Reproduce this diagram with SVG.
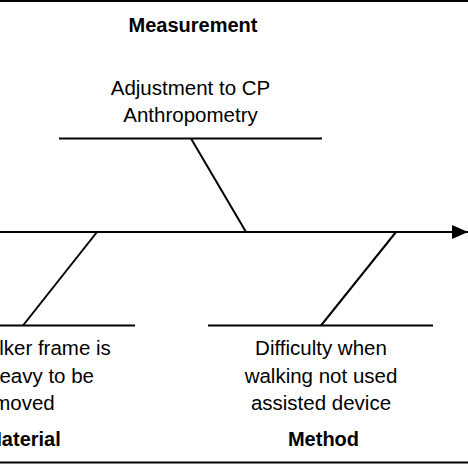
<svg xmlns="http://www.w3.org/2000/svg" width="468" height="468" viewBox="0 0 468 468">
<defs>
<style>
.ln{stroke:#000;stroke-width:2;fill:none}
.t{font-family:"Liberation Sans",Arial,sans-serif;font-size:20.5px;fill:#000;text-anchor:middle}
.b{font-family:"Liberation Sans",Arial,sans-serif;font-size:20px;font-weight:bold;fill:#000;text-anchor:middle}
</style>
<marker id="ah" markerWidth="8" markerHeight="7" refX="8" refY="3.5" orient="auto" markerUnits="strokeWidth">
<path d="M0,0 L8,3.5 L0,7 Z" fill="#000"/>
</marker>
</defs>
<rect width="468" height="468" fill="#fff"/>
<line class="ln" x1="0" y1="1" x2="468" y2="1"/>
<line class="ln" x1="0" y1="462.5" x2="468" y2="462.5"/>
<g id="connectors">
<line class="ln" x1="0" y1="232" x2="468" y2="232" marker-end="url(#ah)"/>
<line class="ln" x1="191" y1="138.5" x2="246" y2="232"/>
<line class="ln" x1="97" y1="232" x2="23" y2="325.5"/>
<line class="ln" x1="396" y1="232" x2="321" y2="325.5"/>
</g>
<g id="measurement">
<text class="b" x="193" y="32">Measurement</text>
<line class="ln" x1="59" y1="138.5" x2="322" y2="138.5"/>
<text class="t" x="190.5" y="95">Adjustment to CP</text>
<text class="t" x="190.5" y="122">Anthropometry</text>
</g>
<g id="material">
<line class="ln" x1="0" y1="325.5" x2="135" y2="325.5"/>
<text class="t" x="40" y="355">Walker frame is</text>
<text class="t" x="41" y="383">heavy to be</text>
<text class="t" x="24" y="410">moved</text>
<text class="b" x="23" y="446">Material</text>
</g>
<g id="method">
<line class="ln" x1="208" y1="325.5" x2="433" y2="325.5"/>
<text class="t" x="321" y="355">Difficulty when</text>
<text class="t" x="321" y="383">walking not used</text>
<text class="t" x="321" y="410">assisted device</text>
<text class="b" x="323.5" y="446">Method</text>
</g>
</svg>
